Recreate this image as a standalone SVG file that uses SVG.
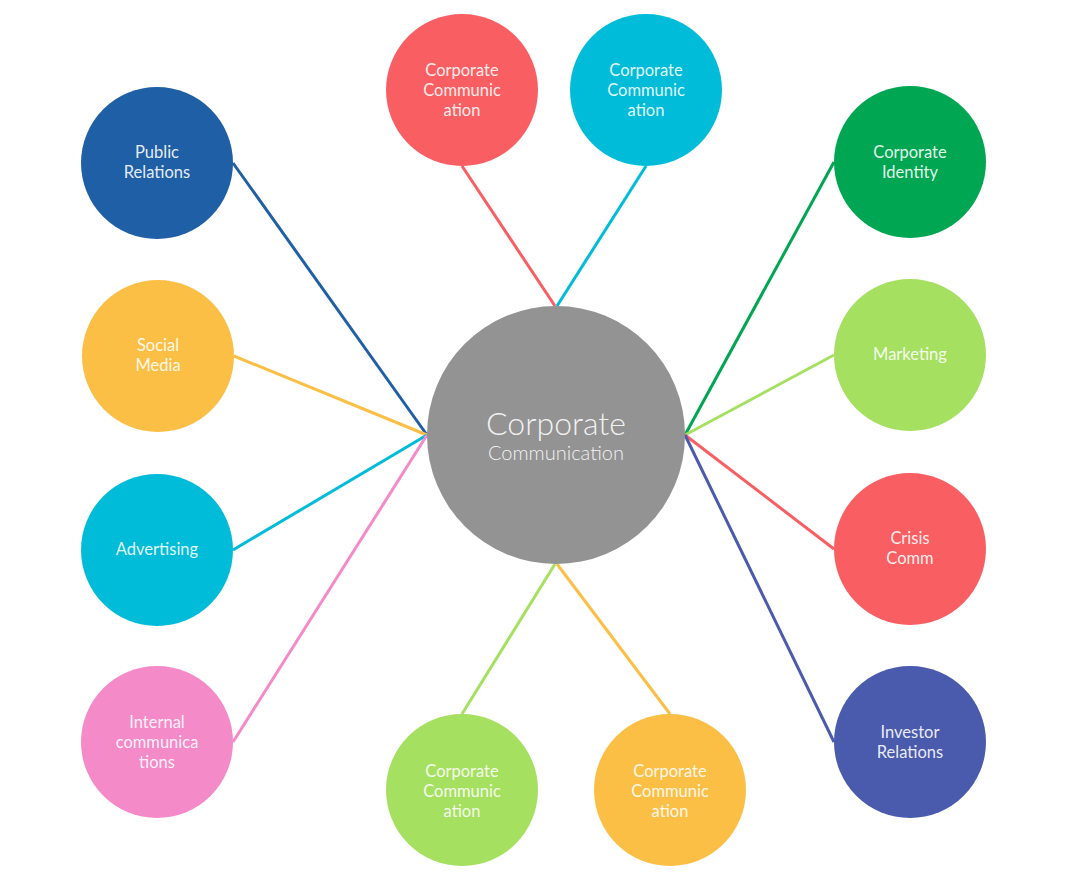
<svg xmlns="http://www.w3.org/2000/svg" width="1080" height="883" viewBox="0 0 1080 883">
<style>
.t{font-family:"Lato","Open Sans","Liberation Sans",sans-serif;font-size:16.5px;fill:#ffffff;fill-opacity:.9;text-anchor:middle}
.ln{stroke-width:3;fill:none}
</style>
<rect width="1080" height="883" fill="#ffffff"/>
<g id="connectors">
<line class="ln" x1="233" y1="163" x2="427" y2="435" stroke="#1f5fa6"/>
<line class="ln" x1="234" y1="356" x2="427" y2="435" stroke="#fcbf45"/>
<line class="ln" x1="233" y1="550" x2="427" y2="435" stroke="#00bcd9"/>
<line class="ln" x1="233" y1="742" x2="427" y2="435" stroke="#f48ac8"/>
<line class="ln" x1="834" y1="162" x2="685" y2="435" stroke="#00a651"/>
<line class="ln" x1="834" y1="355" x2="685" y2="435" stroke="#a5e060"/>
<line class="ln" x1="834" y1="549" x2="685" y2="435" stroke="#f95f62"/>
<line class="ln" x1="834" y1="742" x2="685" y2="435" stroke="#4a5aad"/>
<line class="ln" x1="462" y1="166" x2="555" y2="306" stroke="#f95f62"/>
<line class="ln" x1="646" y1="166" x2="557" y2="306" stroke="#00bcd9"/>
<line class="ln" x1="462" y1="714" x2="555" y2="564" stroke="#a5e060"/>
<line class="ln" x1="670" y1="714" x2="557" y2="564" stroke="#fcbf45"/>
</g>
<g id="center">
<circle cx="556" cy="435" r="129" fill="#939393"/>
<text class="t" x="556" y="435" style="font-size:32px;font-weight:300">Corporate</text>
<text class="t" x="556" y="460" style="font-size:20px;font-weight:300">Communication</text>
</g>
<g id="public-relations">
<circle cx="157" cy="163" r="76" fill="#1f5fa6"/>
<text class="t" x="157" y="158">Public</text>
<text class="t" x="157" y="178">Relations</text>
</g>
<g id="social-media">
<circle cx="158" cy="356" r="76" fill="#fcbf45"/>
<text class="t" x="158" y="351">Social</text>
<text class="t" x="158" y="371">Media</text>
</g>
<g id="advertising">
<circle cx="157" cy="550" r="76" fill="#00bcd9"/>
<text class="t" x="157" y="555">Advertising</text>
</g>
<g id="internal-communications">
<circle cx="157" cy="742" r="76" fill="#f48ac8"/>
<text class="t" x="157" y="728">Internal</text>
<text class="t" x="157" y="748">communica</text>
<text class="t" x="157" y="768">tions</text>
</g>
<g id="corporate-identity">
<circle cx="910" cy="162" r="76" fill="#00a651"/>
<text class="t" x="910" y="158">Corporate</text>
<text class="t" x="910" y="178">Identity</text>
</g>
<g id="marketing">
<circle cx="910" cy="355" r="76" fill="#a5e060"/>
<text class="t" x="910" y="360">Marketing</text>
</g>
<g id="crisis-comm">
<circle cx="910" cy="549" r="76" fill="#f95f62"/>
<text class="t" x="910" y="544">Crisis</text>
<text class="t" x="910" y="564">Comm</text>
</g>
<g id="investor-relations">
<circle cx="910" cy="742" r="76" fill="#4a5aad"/>
<text class="t" x="910" y="738">Investor</text>
<text class="t" x="910" y="758">Relations</text>
</g>
<g id="top-left">
<circle cx="462" cy="90" r="76" fill="#f95f62"/>
<text class="t" x="462" y="76">Corporate</text>
<text class="t" x="462" y="96">Communic</text>
<text class="t" x="462" y="116">ation</text>
</g>
<g id="top-right">
<circle cx="646" cy="90" r="76" fill="#00bcd9"/>
<text class="t" x="646" y="76">Corporate</text>
<text class="t" x="646" y="96">Communic</text>
<text class="t" x="646" y="116">ation</text>
</g>
<g id="bottom-left">
<circle cx="462" cy="790" r="76" fill="#a5e060"/>
<text class="t" x="462" y="777">Corporate</text>
<text class="t" x="462" y="797">Communic</text>
<text class="t" x="462" y="817">ation</text>
</g>
<g id="bottom-right">
<circle cx="670" cy="790" r="76" fill="#fcbf45"/>
<text class="t" x="670" y="777">Corporate</text>
<text class="t" x="670" y="797">Communic</text>
<text class="t" x="670" y="817">ation</text>
</g>
</svg>
